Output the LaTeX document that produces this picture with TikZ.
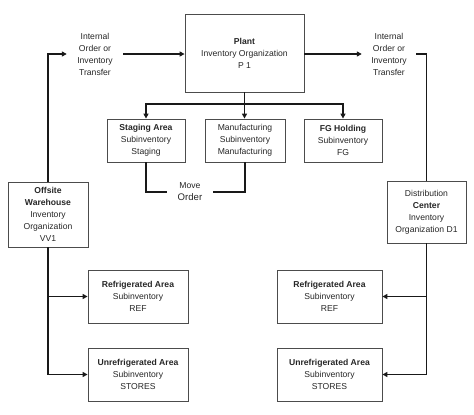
\documentclass[tikz,border=0pt]{standalone}
\usepackage{fontspec}
\setmainfont{Liberation Sans}
\usetikzlibrary{arrows.meta}
\begin{document}
\begin{tikzpicture}[x=1pt,y=-1pt,
  every node/.style={font=\fontsize{8.6}{12}\selectfont, align=center, inner sep=0pt, text=black!85},
  box/.style={draw=black!70, line width=0.8pt},
  lab/.style={},
  conn/.style={line width=1.4pt, black!90},
  arr/.style={conn, -{Triangle[length=5pt,width=5pt]}}]
\useasboundingbox (0,0) rectangle (474,415);
% boxes
\node[box, minimum width=119, minimum height=78] (plant) at (244.5,53) {\textbf{Plant}\\Inventory Organization\\P 1};
\node[box, minimum width=78, minimum height=43] (stg) at (146,140.5) {\textbf{Staging Area}\\Subinventory\\Staging};
\node[box, minimum width=80, minimum height=43] (mfg) at (245,140.5) {Manufacturing\\Subinventory\\Manufacturing};
\node[box, minimum width=78, minimum height=43] (fg) at (343,140.5) {\textbf{FG Holding}\\Subinventory\\FG};
\node[box, minimum width=80, minimum height=65] (off) at (48,214.5) {\textbf{Offsite}\\\textbf{Warehouse}\\Inventory\\Organization\\VV1};
\node[box, minimum width=79, minimum height=62] (dist) at (426.5,212) {Distribution\\\textbf{Center}\\Inventory\\Organization D1};
\node[box, minimum width=100, minimum height=53] (lref) at (138,296.5) {\textbf{Refrigerated Area}\\Subinventory\\REF};
\node[box, minimum width=100, minimum height=53] (lunref) at (138,374.5) {\textbf{Unrefrigerated Area}\\Subinventory\\STORES};
\node[box, minimum width=105, minimum height=53] (rref) at (329.5,296.5) {\textbf{Refrigerated Area}\\Subinventory\\REF};
\node[box, minimum width=105, minimum height=53] (runref) at (329.5,374.5) {\textbf{Unrefrigerated Area}\\Subinventory\\STORES};
% labels
\node[lab, minimum width=56] (lab1) at (95,54) {Internal\\Order or\\Inventory\\Transfer};
\node[lab, minimum width=54] (lab2) at (389,54) {Internal\\Order or\\Inventory\\Transfer};
\node[lab, minimum width=46] (mv) at (190,191.5) {Move\\{\fontsize{9.6}{12}\selectfont Order}};
% connectors
\draw[arr] (off.north) |- (lab1.west);
\draw[arr] (lab1.east) -- (lab1.east -| plant.west);
\draw[arr] (plant.east |- lab2.west) -- (lab2.west);
\draw[conn] (lab2.east) -| (dist.north);
\coordinate (bus) at (0,104);
\draw[arr] (plant.south) -- (plant.south |- bus) -| (stg.north);
\draw[arr] (plant.south |- bus) -| (fg.north);
\draw[arr] (plant.south) -- (plant.south |- mfg.north);
\draw[conn] (stg.south) |- ([yshift=-0.5pt]mv.west);
\draw[conn] ([yshift=-0.5pt]mv.east) -| (mfg.south);
\draw[arr] (off.south) |- (lunref.west);
\draw[arr] (off.south |- lref.west) -- (lref.west);
\draw[arr] (dist.south) |- (runref.east);
\draw[arr] (dist.south |- rref.east) -- (rref.east);
\end{tikzpicture}
\end{document}
